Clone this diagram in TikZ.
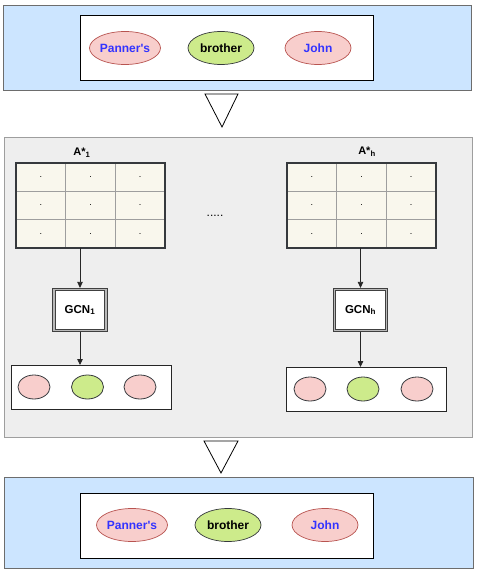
\documentclass[tikz,border=0pt]{standalone}
\usepackage{fontspec}
\setmainfont{Liberation Sans}[Ligatures=TeXOff]
\usetikzlibrary{arrows.meta,shapes.geometric}
\definecolor{bluefill}{HTML}{CCE5FF}
\definecolor{boxline}{HTML}{6D6D6D}
\definecolor{pinkfill}{HTML}{F8CECC}
\definecolor{pinkline}{HTML}{B85450}
\definecolor{greenfill}{HTML}{CDEB8B}
\definecolor{darkline}{HTML}{36393D}
\definecolor{wordblue}{HTML}{3333FF}
\definecolor{grayfill}{HTML}{EEEEEE}
\definecolor{grayline}{HTML}{9E9E9E}
\definecolor{cellfill}{HTML}{F9F7ED}
\tikzset{
  blueBox/.style={draw=boxline, fill=bluefill, line width=0.8pt, minimum width=#1, inner sep=0pt, outer sep=0pt},
  wBox/.style={draw=black, fill=white, line width=0.8pt, inner sep=0pt, outer sep=0pt},
  bigEll/.style={ellipse, line width=0.7pt, minimum width=66pt, minimum height=33pt, inner sep=0pt, font=\fontsize{12}{14}\selectfont\bfseries},
  pinkEll/.style={bigEll, draw=pinkline, fill=pinkfill, text=wordblue},
  greenEll/.style={bigEll, draw=darkline, fill=greenfill, text=black},
  smallEll/.style={ellipse, draw=darkline, line width=0.8pt, minimum width=32pt, minimum height=24pt, inner sep=0pt},
  smallPink/.style={smallEll, fill=pinkfill},
  smallGreen/.style={smallEll, fill=greenfill},
  grayBox/.style={draw=grayline, fill=grayfill, line width=1pt, inner sep=0pt, outer sep=0pt},
  cellBox/.style={draw=grayline, fill=cellfill, line width=0.8pt, minimum width=49.67pt, minimum height=28.33pt, inner sep=0pt, font=\fontsize{9}{10}\selectfont},
  gridFrame/.style={draw=darkline, line width=1.2pt, minimum width=149pt, minimum height=85pt, inner sep=0pt, outer sep=0pt},
  gcnBox/.style={draw=black!75, double=gray!55, double distance=1.6pt, line width=0.8pt, fill=white, minimum width=52pt, minimum height=41pt, inner sep=0pt, outer sep=1.6pt, font=\fontsize{11.5}{13}\selectfont\bfseries},
  rowBox/.style={draw=black!85, fill=white, line width=0.8pt, minimum width=160pt, minimum height=44pt, inner sep=0pt, outer sep=0pt},
  lbl/.style={font=\fontsize{11}{13}\selectfont\bfseries, inner sep=0pt},
  conn/.style={draw=black!85, line width=0.8pt, -{Triangle[length=6pt,width=5.5pt]}},
  tri/.style={draw=black, line width=0.8pt, fill=white, line join=miter}
}
\begin{document}
\begin{tikzpicture}[x=1pt,y=-1pt]
\useasboundingbox (0,0) rectangle (478,572);
% top block
\node[blueBox=468pt, minimum height=85pt] (topbox) at (237,47.5) {};
\node[wBox, minimum width=293pt, minimum height=65pt] (topin) at (226.5,47.5) {};
\node[pinkEll] (t1) at (125,48) {Panner's};
\node[greenEll] (t2) at (221,48) {brother};
\node[pinkEll] (t3) at (318,48) {John};
% triangle 1
\draw[tri] (205,94) -- (238,94) -- (222,127) -- cycle;
% middle block
\node[grayBox, minimum width=468pt, minimum height=299pt] (mid) at (238,287.5) {};
% grid 1
\node[lbl] (a1) at (82,153) {A*\textsubscript{1}};
\foreach \r/\yy in {1/177.17,2/205.5,3/233.83}{
  \foreach \c/\xx in {1/40.83,2/90.5,3/140.17}{
    \node[cellBox] (ga-\r-\c) at (\xx,\yy) {.};
  }
}
\node[gridFrame] (g1) at (90.5,205.5) {};
\node[font=\fontsize{12}{14}\selectfont, anchor=base, inner sep=0pt] (dots) at (215,216) {.....};
\node[gcnBox] (gcn1) at (80,310) {GCN\textsubscript{1}};
\node[rowBox] (row1) at (91,387) {};
\node[smallPink] (r1a) at (34,387) {};
\node[smallGreen] (r1b) at (87.5,387) {};
\node[smallPink] (r1c) at (140,387) {};
\draw[conn] (gcn1.north |- g1.south) -- (gcn1.north);
\draw[conn] (gcn1.south) -- (gcn1.south |- row1.north);
% grid h
\node[lbl] (ah) at (367,152) {A*\textsubscript{h}};
\foreach \r/\yy in {1/177.17,2/205.5,3/233.83}{
  \foreach \c/\xx in {1/311.83,2/361.5,3/411.17}{
    \node[cellBox] (gh-\r-\c) at (\xx,\yy) {.};
  }
}
\node[gridFrame] (gh) at (361.5,205.5) {};
\node[gcnBox] (gcnh) at (360.5,310) {GCN\textsubscript{h}};
\node[rowBox] (rowh) at (366,389) {};
\node[smallPink] (rha) at (310,389) {};
\node[smallGreen] (rhb) at (363,389) {};
\node[smallPink] (rhc) at (417,389) {};
\draw[conn] (gcnh.north |- gh.south) -- (gcnh.north);
\draw[conn] (gcnh.south) -- (gcnh.south |- rowh.north);
% triangle 2
\draw[tri] (204,441) -- (238,441) -- (221,473) -- cycle;
% bottom block
\node[blueBox=469pt, minimum height=91pt] (botbox) at (238.5,522.5) {};
\node[wBox, minimum width=293pt, minimum height=65pt] (botin) at (226.5,525.5) {};
\node[pinkEll] (b1) at (132,525) {Panner's};
\node[greenEll] (b2) at (228,525) {brother};
\node[pinkEll] (b3) at (325,525) {John};
\end{tikzpicture}
\end{document}
